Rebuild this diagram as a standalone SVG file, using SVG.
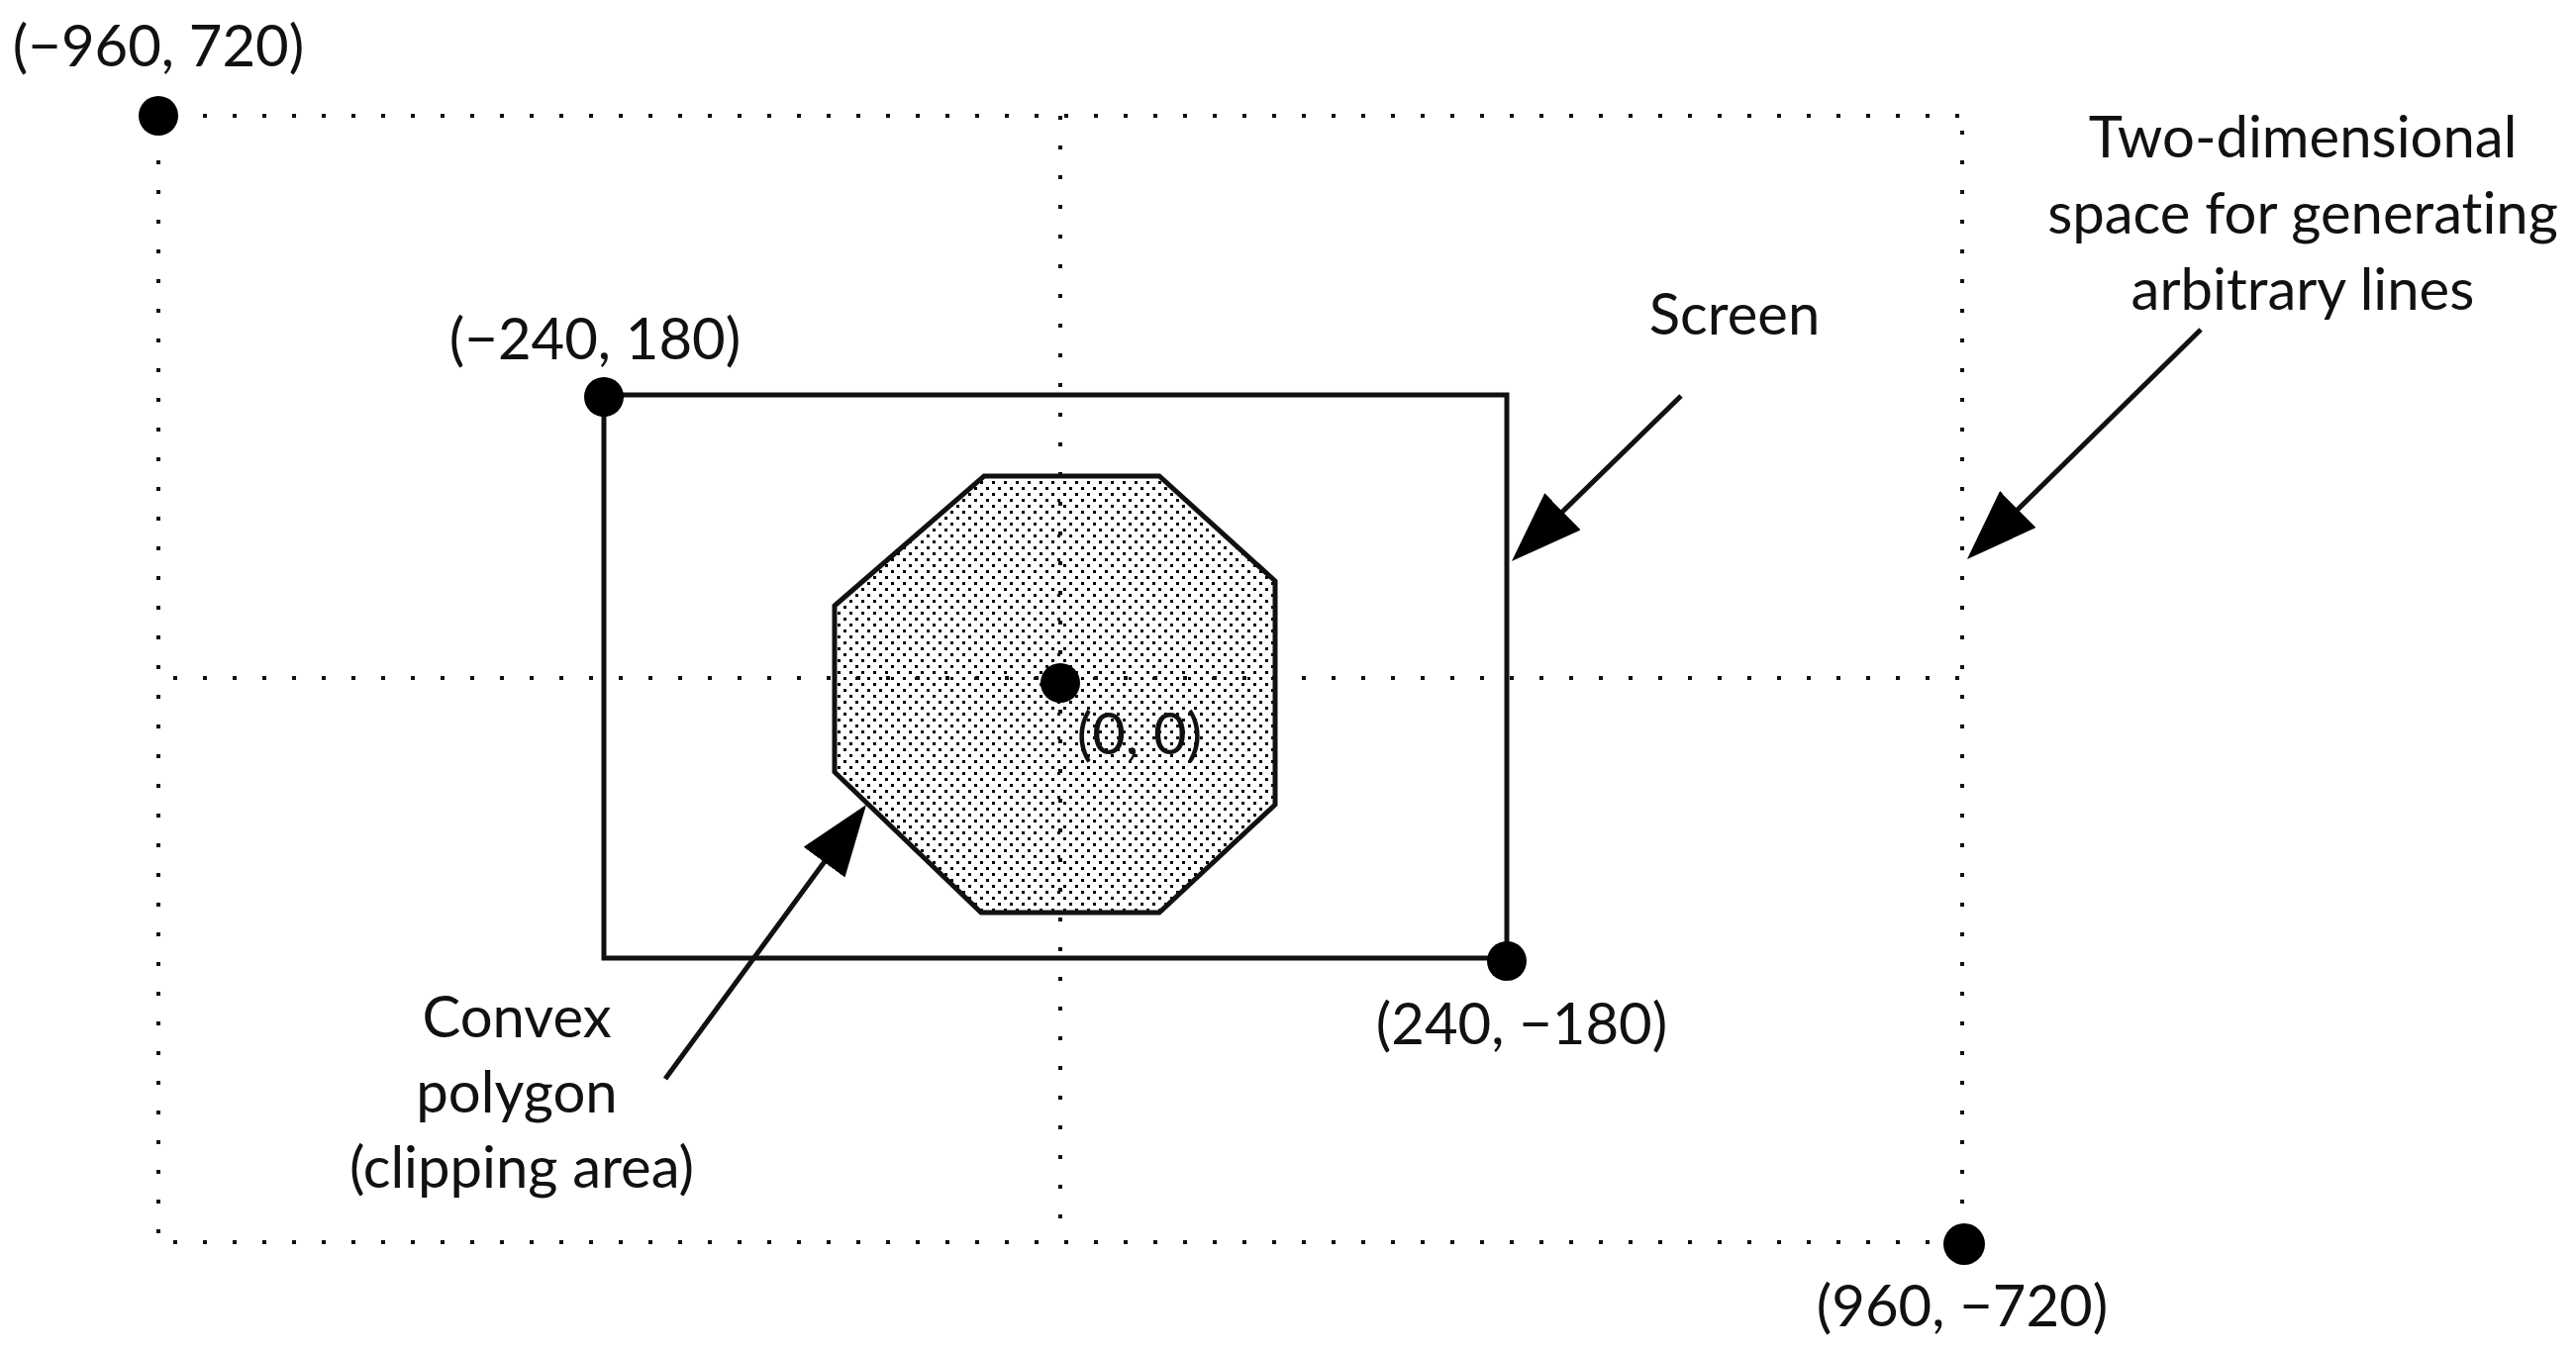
<svg xmlns="http://www.w3.org/2000/svg" width="2602" height="1367" viewBox="0 0 2602 1367">
<style>
.lbl{font-family:Lato,"Liberation Sans",sans-serif;font-size:58px;fill:#111;text-anchor:middle;font-variant-ligatures:none;font-feature-settings:"liga" 0}
.grid{stroke:#111;stroke-width:4;stroke-dasharray:4 26;fill:none}
.solid{stroke:#111;stroke-width:5;fill:none}
.pt{fill:#000}
.arr{stroke:#111;stroke-width:5;fill:none;marker-end:url(#ah)}
</style>
<defs>
<pattern id="dots" patternUnits="userSpaceOnUse" width="12" height="12">
<rect width="12" height="12" fill="#fff"/>
<rect x="0" y="0" width="3" height="3" fill="#000"/>
<rect x="6" y="6" width="3" height="3" fill="#000"/>
</pattern>
<marker id="ah" markerUnits="userSpaceOnUse" markerWidth="72" markerHeight="52" refX="32" refY="26" orient="auto" viewBox="0 0 72 52">
<path d="M0,0 L72,26 L0,52 Z" fill="#000"/>
</marker>
</defs>
<rect width="2602" height="1367" fill="#fff"/>

<g id="clipping-polygon">
<polygon points="994,481 1171,481 1288,587 1288,813 1171,922 991,922 843,780 843,612" fill="url(#dots)" stroke="#111" stroke-width="5" stroke-linejoin="miter"/>
</g>

<g id="space-grid">
<line class="grid" x1="175" y1="117" x2="1982" y2="117"/>
<line class="grid" x1="160" y1="132" x2="160" y2="1255"/>
<line class="grid" x1="175" y1="1255" x2="1965" y2="1255"/>
<line class="grid" x1="1982" y1="132" x2="1982" y2="1240"/>
<line class="grid" x1="1071" y1="117" x2="1071" y2="1255"/>
<line class="grid" x1="175" y1="685" x2="1982" y2="685"/>
</g>

<g id="screen">
<rect class="solid" x="610" y="399" width="912" height="569"/>
</g>

<g id="points">
<circle class="pt" cx="160" cy="117" r="20"/>
<circle class="pt" cx="610" cy="401" r="20"/>
<circle class="pt" cx="1071" cy="690" r="20"/>
<circle class="pt" cx="1522" cy="971" r="20"/>
<circle class="pt" cx="1984" cy="1257" r="21"/>
</g>

<g id="connectors">
<line class="arr" x1="1698" y1="400" x2="1555.6" y2="539.1"/>
<line class="arr" x1="2223" y1="333" x2="2015.5" y2="537"/>
<line class="arr" x1="672" y1="1090" x2="851.4" y2="845.3"/>
</g>

<g id="labels">
<text class="lbl" x="160" y="67">(−960, 720)</text>
<text class="lbl" x="601" y="363">(−240, 180)</text>
<text class="lbl" x="1151" y="762">(0, 0)</text>
<text class="lbl" x="1537" y="1055">(240, −180)</text>
<text class="lbl" x="1982" y="1340">(960, −720)</text>
<text class="lbl" x="1752" y="338">Screen</text>
<text class="lbl" x="2326" y="159">Two-dimensional</text>
<text class="lbl" x="2326" y="236">space for generating</text>
<text class="lbl" x="2326" y="313">arbitrary lines</text>
<text class="lbl" x="522" y="1048">Convex</text>
<text class="lbl" x="522" y="1124">polygon</text>
<text class="lbl" x="527" y="1200">(clipping area)</text>
</g>
</svg>
